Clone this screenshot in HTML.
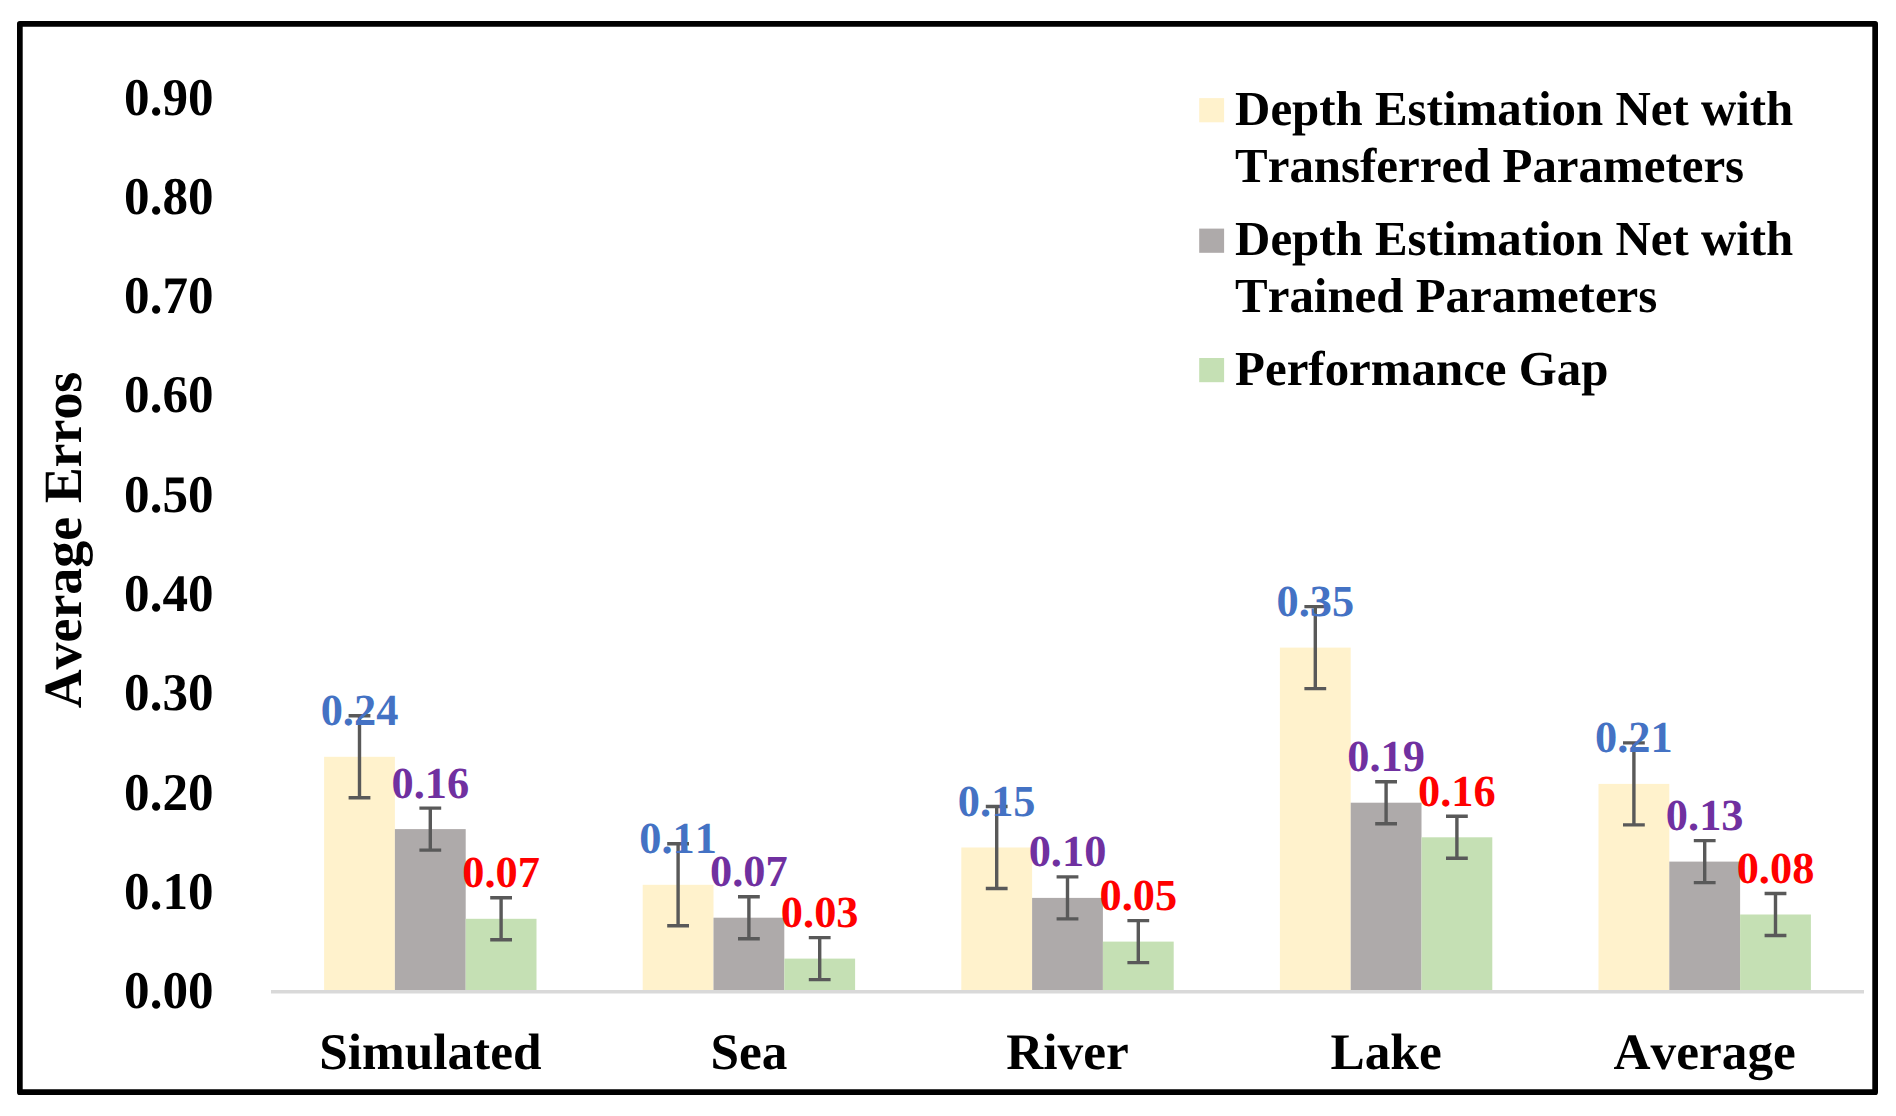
<!DOCTYPE html><html><head><meta charset="utf-8"><title>Average Erros</title><style>
html,body{margin:0;padding:0;background:#fff;width:1896px;height:1116px;overflow:hidden}
svg{display:block}
text{font-family:"Liberation Serif","Times New Roman",serif;font-weight:bold;font-kerning:none;text-rendering:geometricPrecision}
</style></head><body>
<svg width="1896" height="1116" viewBox="0 0 1896 1116">
<rect x="0" y="0" width="1896" height="1116" fill="#fff"/>
<rect x="324.10" y="756.80" width="70.80" height="234.20" fill="#FFF2CC"/>
<rect x="394.90" y="829.10" width="70.80" height="161.90" fill="#AEAAAA"/>
<rect x="465.70" y="918.80" width="70.80" height="72.20" fill="#C5E0B4"/>
<rect x="642.70" y="884.80" width="70.80" height="106.20" fill="#FFF2CC"/>
<rect x="713.50" y="917.70" width="70.80" height="73.30" fill="#AEAAAA"/>
<rect x="784.30" y="958.60" width="70.80" height="32.40" fill="#C5E0B4"/>
<rect x="961.30" y="847.50" width="70.80" height="143.50" fill="#FFF2CC"/>
<rect x="1032.10" y="897.90" width="70.80" height="93.10" fill="#AEAAAA"/>
<rect x="1102.90" y="941.60" width="70.80" height="49.40" fill="#C5E0B4"/>
<rect x="1279.90" y="647.60" width="70.80" height="343.40" fill="#FFF2CC"/>
<rect x="1350.70" y="802.70" width="70.80" height="188.30" fill="#AEAAAA"/>
<rect x="1421.50" y="837.30" width="70.80" height="153.70" fill="#C5E0B4"/>
<rect x="1598.50" y="783.90" width="70.80" height="207.10" fill="#FFF2CC"/>
<rect x="1669.30" y="861.60" width="70.80" height="129.40" fill="#AEAAAA"/>
<rect x="1740.10" y="914.50" width="70.80" height="76.50" fill="#C5E0B4"/>
<rect x="271.0" y="990.0" width="1593.0" height="3.5" fill="#D9D9D9"/>
<path d="M359.50 715.80V797.80M348.60 715.80H370.40M348.60 797.80H370.40" stroke="#595959" stroke-width="3.4" fill="none"/>
<path d="M430.30 808.10V850.10M419.40 808.10H441.20M419.40 850.10H441.20" stroke="#595959" stroke-width="3.4" fill="none"/>
<path d="M501.10 897.80V939.80M490.20 897.80H512.00M490.20 939.80H512.00" stroke="#595959" stroke-width="3.4" fill="none"/>
<path d="M678.10 843.80V925.80M667.20 843.80H689.00M667.20 925.80H689.00" stroke="#595959" stroke-width="3.4" fill="none"/>
<path d="M748.90 896.70V938.70M738.00 896.70H759.80M738.00 938.70H759.80" stroke="#595959" stroke-width="3.4" fill="none"/>
<path d="M819.70 937.60V979.60M808.80 937.60H830.60M808.80 979.60H830.60" stroke="#595959" stroke-width="3.4" fill="none"/>
<path d="M996.70 806.50V888.50M985.80 806.50H1007.60M985.80 888.50H1007.60" stroke="#595959" stroke-width="3.4" fill="none"/>
<path d="M1067.50 876.90V918.90M1056.60 876.90H1078.40M1056.60 918.90H1078.40" stroke="#595959" stroke-width="3.4" fill="none"/>
<path d="M1138.30 920.60V962.60M1127.40 920.60H1149.20M1127.40 962.60H1149.20" stroke="#595959" stroke-width="3.4" fill="none"/>
<path d="M1315.30 606.60V688.60M1304.40 606.60H1326.20M1304.40 688.60H1326.20" stroke="#595959" stroke-width="3.4" fill="none"/>
<path d="M1386.10 781.70V823.70M1375.20 781.70H1397.00M1375.20 823.70H1397.00" stroke="#595959" stroke-width="3.4" fill="none"/>
<path d="M1456.90 816.30V858.30M1446.00 816.30H1467.80M1446.00 858.30H1467.80" stroke="#595959" stroke-width="3.4" fill="none"/>
<path d="M1633.90 742.90V824.90M1623.00 742.90H1644.80M1623.00 824.90H1644.80" stroke="#595959" stroke-width="3.4" fill="none"/>
<path d="M1704.70 840.60V882.60M1693.80 840.60H1715.60M1693.80 882.60H1715.60" stroke="#595959" stroke-width="3.4" fill="none"/>
<path d="M1775.50 893.50V935.50M1764.60 893.50H1786.40M1764.60 935.50H1786.40" stroke="#595959" stroke-width="3.4" fill="none"/>
<text x="359.50" y="725.30" font-size="44.4" fill="#4472C4" text-anchor="middle">0.24</text>
<text x="430.30" y="797.60" font-size="44.4" fill="#7030A0" text-anchor="middle">0.16</text>
<text x="501.10" y="887.30" font-size="44.4" fill="#FF0000" text-anchor="middle">0.07</text>
<text x="678.10" y="853.30" font-size="44.4" fill="#4472C4" text-anchor="middle">0.11</text>
<text x="748.90" y="886.20" font-size="44.4" fill="#7030A0" text-anchor="middle">0.07</text>
<text x="819.70" y="927.10" font-size="44.4" fill="#FF0000" text-anchor="middle">0.03</text>
<text x="996.70" y="816.00" font-size="44.4" fill="#4472C4" text-anchor="middle">0.15</text>
<text x="1067.50" y="866.40" font-size="44.4" fill="#7030A0" text-anchor="middle">0.10</text>
<text x="1138.30" y="910.10" font-size="44.4" fill="#FF0000" text-anchor="middle">0.05</text>
<text x="1315.30" y="616.10" font-size="44.4" fill="#4472C4" text-anchor="middle">0.35</text>
<text x="1386.10" y="771.20" font-size="44.4" fill="#7030A0" text-anchor="middle">0.19</text>
<text x="1456.90" y="805.80" font-size="44.4" fill="#FF0000" text-anchor="middle">0.16</text>
<text x="1633.90" y="752.40" font-size="44.4" fill="#4472C4" text-anchor="middle">0.21</text>
<text x="1704.70" y="830.10" font-size="44.4" fill="#7030A0" text-anchor="middle">0.13</text>
<text x="1775.50" y="883.00" font-size="44.4" fill="#FF0000" text-anchor="middle">0.08</text>
<text transform="translate(213.5,114.50) scale(1,1.035)" font-size="51.1" fill="#000" text-anchor="end">0.90</text>
<text transform="translate(213.5,213.81) scale(1,1.035)" font-size="51.1" fill="#000" text-anchor="end">0.80</text>
<text transform="translate(213.5,313.12) scale(1,1.035)" font-size="51.1" fill="#000" text-anchor="end">0.70</text>
<text transform="translate(213.5,412.43) scale(1,1.035)" font-size="51.1" fill="#000" text-anchor="end">0.60</text>
<text transform="translate(213.5,511.74) scale(1,1.035)" font-size="51.1" fill="#000" text-anchor="end">0.50</text>
<text transform="translate(213.5,611.05) scale(1,1.035)" font-size="51.1" fill="#000" text-anchor="end">0.40</text>
<text transform="translate(213.5,710.36) scale(1,1.035)" font-size="51.1" fill="#000" text-anchor="end">0.30</text>
<text transform="translate(213.5,809.67) scale(1,1.035)" font-size="51.1" fill="#000" text-anchor="end">0.20</text>
<text transform="translate(213.5,908.98) scale(1,1.035)" font-size="51.1" fill="#000" text-anchor="end">0.10</text>
<text transform="translate(213.5,1008.29) scale(1,1.035)" font-size="51.1" fill="#000" text-anchor="end">0.00</text>
<text x="430.30" y="1069.1" font-size="51.3" fill="#000" text-anchor="middle">Simulated</text>
<text x="748.90" y="1069.1" font-size="51.3" fill="#000" text-anchor="middle">Sea</text>
<text x="1067.50" y="1069.1" font-size="51.3" fill="#000" text-anchor="middle">River</text>
<text x="1386.10" y="1069.1" font-size="51.3" fill="#000" text-anchor="middle">Lake</text>
<text x="1704.70" y="1069.1" font-size="51.3" fill="#000" text-anchor="middle">Average</text>
<text transform="translate(81.3,540.0) rotate(-90)" x="0" y="0" font-size="53.9" fill="#000" text-anchor="middle">Average Erros</text>
<rect x="1199.2" y="98.1" width="24.9" height="24.2" fill="#FFF2CC"/>
<text x="1235.1" y="124.80" font-size="48.9" fill="#000">Depth Estimation Net with</text>
<text x="1235.1" y="181.80" font-size="48.9" fill="#000">Transferred Parameters</text>
<rect x="1199.2" y="228.6" width="24.9" height="24.2" fill="#AEAAAA"/>
<text x="1235.1" y="255.20" font-size="48.9" fill="#000">Depth Estimation Net with</text>
<text x="1235.1" y="312.20" font-size="48.9" fill="#000">Trained Parameters</text>
<rect x="1199.2" y="358.0" width="24.9" height="24.2" fill="#C5E0B4"/>
<text x="1235.1" y="385.30" font-size="48.9" fill="#000">Performance Gap</text>
<rect x="19.85" y="23.85" width="1855.3" height="1068.3" fill="none" stroke="#000" stroke-width="5.7" stroke-linejoin="round"/>
</svg></body></html>
